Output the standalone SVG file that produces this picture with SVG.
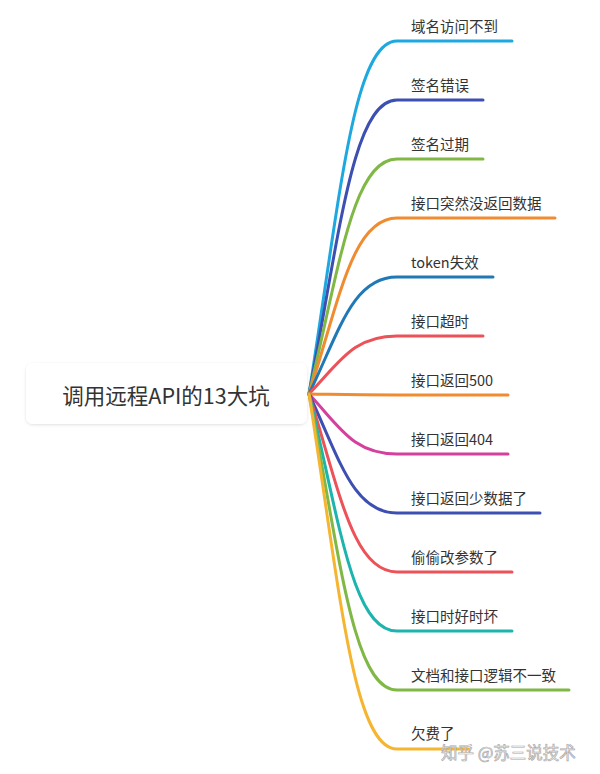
<svg xmlns="http://www.w3.org/2000/svg" width="600" height="774" viewBox="0 0 600 774">
<defs>
<style>
.edge{fill:none;stroke-width:3;stroke-linecap:round}
.lbl{font-family:"Noto Sans CJK SC","Liberation Sans",sans-serif;font-size:14.5px;fill:#333}
.root{font-family:"Noto Sans CJK SC","Liberation Sans",sans-serif;font-size:21.5px;fill:#333}
.wm{font-family:"Noto Sans CJK SC","Liberation Sans",sans-serif;font-size:16.5px;fill:#fff;fill-opacity:0.85;stroke:#a8a8a8;stroke-width:0.7}
</style>
<filter id="sh" x="-10%" y="-30%" width="120%" height="160%">
<feDropShadow dx="0" dy="1" stdDeviation="1.5" flood-color="#000" flood-opacity="0.12"/>
</filter>
</defs>
<rect width="600" height="774" fill="#fff"/>
<g id="connectors">
<path class="edge" stroke="#1ea8e0" d="M309 394 C339.8 199.8 353 41 397 41 L512 41"/>
<path class="edge" stroke="#3d50b2" d="M309 394 C339.8 232.3 353 100 397 100 L483 100"/>
<path class="edge" stroke="#80b846" d="M309 394 C339.8 264.7 353 159 397 159 L483 159"/>
<path class="edge" stroke="#f08b30" d="M309 394 C339.8 297.2 353 218 397 218 L555 218"/>
<path class="edge" stroke="#2079b6" d="M309 394 C339.8 329.6 353 277 397 277 L493 277"/>
<path class="edge" stroke="#ec5258" d="M309 394 C339.8 362.1 353 336 397 336 L483 336"/>
<path class="edge" stroke="#f08b30" d="M309 394 C339.8 394.5 353 395 397 395 L508 395"/>
<path class="edge" stroke="#d4409c" d="M309 394 C339.8 427 353 454 397 454 L508 454"/>
<path class="edge" stroke="#3d50b2" d="M309 394 C339.8 459.5 353 513 397 513 L540 513"/>
<path class="edge" stroke="#ec5258" d="M309 394 C339.8 491.9 353 572 397 572 L512 572"/>
<path class="edge" stroke="#1db4ae" d="M309 394 C339.8 524.4 353 631 397 631 L512 631"/>
<path class="edge" stroke="#80b846" d="M309 394 C339.8 556.8 353 690 397 690 L569 690"/>
<path class="edge" stroke="#f6b530" d="M309 394 C339.8 589.3 353 749 397 749 L469 749"/>
</g>
<g id="root">
<rect x="26" y="363" width="281" height="61" rx="7" fill="#fff" filter="url(#sh)"/>
<text class="root" x="166" y="404" text-anchor="middle">调用远程API的13大坑</text>
</g>
<g id="n1"><text class="lbl" x="411" y="32">域名访问不到</text></g>
<g id="n2"><text class="lbl" x="411" y="91">签名错误</text></g>
<g id="n3"><text class="lbl" x="411" y="150">签名过期</text></g>
<g id="n4"><text class="lbl" x="411" y="209">接口突然没返回数据</text></g>
<g id="n5"><text class="lbl" x="411" y="268">token失效</text></g>
<g id="n6"><text class="lbl" x="411" y="327">接口超时</text></g>
<g id="n7"><text class="lbl" x="411" y="386">接口返回500</text></g>
<g id="n8"><text class="lbl" x="411" y="445">接口返回404</text></g>
<g id="n9"><text class="lbl" x="411" y="504">接口返回少数据了</text></g>
<g id="n10"><text class="lbl" x="411" y="563">偷偷改参数了</text></g>
<g id="n11"><text class="lbl" x="411" y="622">接口时好时坏</text></g>
<g id="n12"><text class="lbl" x="411" y="681">文档和接口逻辑不一致</text></g>
<g id="n13"><text class="lbl" x="411" y="739">欠费了</text></g>
<text class="wm" x="441" y="759">知乎 @苏三说技术</text>
</svg>
